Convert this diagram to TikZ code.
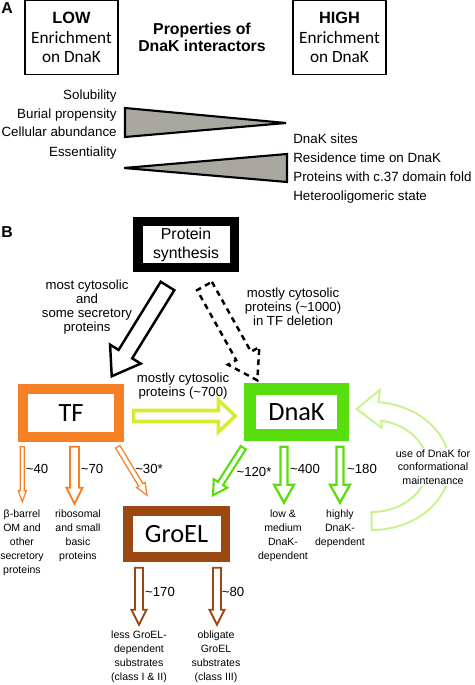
\documentclass[tikz,border=0pt]{standalone}
\usepackage{fontspec}
\setmainfont{Liberation Sans}
\newfontfamily\calfont{Carlito}
\usetikzlibrary{calc,positioning}

\definecolor{tforange}{RGB}{247,128,38}
\definecolor{dnakgreen}{RGB}{88,222,12}
\definecolor{groelbrown}{RGB}{156,72,18}
\definecolor{limeyellow}{RGB}{214,236,44}
\definecolor{palegreen}{RGB}{200,242,140}
\definecolor{wedgegray}{RGB}{168,168,160}

% hollow block arrow: [style]{from}{to}{shaft half width}{head half width}{head length}
\newcommand{\blockarr}[6][]{%
  \coordinate (ba-s) at (#2);
  \coordinate (ba-e) at (#3);
  \coordinate (ba-h) at ($(ba-e)!#6!(ba-s)$);
  \draw[#1] ($(ba-s)!#4!90:(ba-e)$) -- ($(ba-h)!#4!-90:(ba-s)$) -- ($(ba-h)!#5!-90:(ba-s)$)
    -- (ba-e) -- ($(ba-h)!#5!90:(ba-s)$) -- ($(ba-h)!#4!90:(ba-s)$) -- ($(ba-s)!#4!-90:(ba-e)$) -- cycle;
}

\begin{document}
\begin{tikzpicture}[x=0.02cm, y=-0.02cm,
	 panellbl/.style={font=\bfseries\fontsize{9}{10}\selectfont, inner sep=0pt},
	 enrichbox/.style={draw, line width=0.8pt, minimum width=1.86cm, minimum height=1.48cm, inner sep=0pt, align=center, font=\calfont\fontsize{9.8}{11.3}\selectfont},
	 propl/.style={font=\fontsize{7.6}{9}\selectfont, inner sep=0pt, text height=1.6ex, text depth=0.4ex},
	 wedge/.style={draw, line width=1.2pt, fill=wedgegray, line join=miter},
	 chapbox/.style={draw=#1, line width=5.4pt, minimum width=1.93cm, minimum height=0.91cm, inner sep=0pt, align=center},
	 bigname/.style={font=\calfont\fontsize{15}{18}\selectfont},
	 flowlbl/.style={font=\fontsize{7.5}{8}\selectfont, align=center, inner sep=0pt},
	 countlbl/.style={font=\fontsize{7.5}{9}\selectfont, inner sep=0pt},
	 fatelbl/.style={font=\fontsize{6}{7.9}\selectfont, align=center, inner sep=0pt}]
	 \useasboundingbox (0,0) rectangle (474,685);

	 % panel A
	 \node[panellbl] (lblA) at (7,8) {A};
	 \node[enrichbox] (low) at (71.5,37.5) {{\rmfamily\bfseries\fontsize{9.3}{11.3}\selectfont LOW}\\Enrichment\\on DnaK};
	 \node[enrichbox] (high) at (339.5,37.5) {{\rmfamily\bfseries\fontsize{9.3}{11.3}\selectfont HIGH}\\Enrichment\\on DnaK};
	 \node[font=\bfseries\fontsize{9}{9.6}\selectfont, align=center, inner sep=0pt] (props) at (202,37.5) {Properties of\\DnaK interactors};

	 \node[propl, anchor=east] (solub) at (117,94) {Solubility};
	 \node[propl, anchor=east] (burial) at (117,113) {Burial propensity};
	 \node[propl, anchor=east] (abund) at (117,131) {Cellular abundance};
	 \node[propl, anchor=east] (essent) at (117,151) {Essentiality};

	 \draw[wedge] (125,108) -- (286,123) -- (125,137) -- cycle;
	 \draw[wedge] (124,168) -- (287,154) -- (287,182) -- cycle;

	 \node[propl, anchor=west] (sites) at (293,138) {DnaK sites};
	 \node[propl, anchor=west] (residence) at (293,157) {Residence time on DnaK};
	 \node[propl, anchor=west] (fold) at (293,176) {Proteins with c.37 domain fold};
	 \node[propl, anchor=west] (hetero) at (293,195) {Heterooligomeric state};

	 % panel B
	 \node[panellbl] (lblB) at (7,232) {B};
	 \node[chapbox=black, font=\fontsize{9}{10.8}\selectfont] (ps) at (186,244.5) {Protein\\synthesis};
	 \node[chapbox=tforange, bigname, minimum width=1.92cm, minimum height=0.96cm] (tf) at (71,413) {TF};
	 \node[chapbox=dnakgreen, bigname, line width=6.5pt, minimum width=1.86cm, minimum height=0.92cm] (dnak) at (296.5,412) {DnaK};
	 \node[chapbox=groelbrown, bigname, minimum width=1.95cm, minimum height=0.92cm] (groel) at (176.5,534) {GroEL};

	 \blockarr[draw=black, line width=1.4pt, line join=miter]{$(ps.south)+(-18.5,14)$}{$(tf.north east)+(-12,-8)$}{0.16cm}{0.36cm}{0.52cm}
	 \blockarr[draw=black, line width=1.4pt, dash pattern=on 3.2pt off 2.6pt]{$(ps.south)+(18.5,14)$}{$(dnak.north west)+(13,-3)$}{0.17cm}{0.36cm}{0.56cm}
	 \blockarr[draw=limeyellow, line width=2pt, line join=miter]{$(tf.east)+(10,3)$}{$(dnak.west)+(-9,4)$}{0.11cm}{0.32cm}{0.34cm}

	 \node[flowlbl] (srctf) at (87,307) {most cytosolic\\and\\some secretory\\proteins};
	 \node[flowlbl] (srcdnak) at (293,307) {mostly cytosolic\\proteins (\textasciitilde1000)\\in TF deletion};
	 \node[flowlbl] (tfdnak) at (183,386) {mostly cytosolic\\proteins (\textasciitilde700)};

	 % from TF
	 \blockarr[draw=tforange, line width=0.7pt]{$(tf.south west)+(4,5)$}{$(tf.south west)+(4,60)$}{0.04cm}{0.08cm}{0.22cm}
	 \blockarr[draw=tforange, line width=1.1pt]{$(tf.south)+(3.5,5)$}{$(tf.south)+(3.5,62)$}{0.09cm}{0.16cm}{0.32cm}
	 \blockarr[draw=tforange, line width=0.7pt]{$(tf.south east)+(-6,5)$}{$(groel.north west)+(24,-11)$}{0.05cm}{0.1cm}{0.24cm}

	 % from DnaK
	 \blockarr[draw=dnakgreen, line width=1.2pt]{$(dnak.south west)+(-1,7)$}{$(groel.north east)+(-17,-11)$}{0.06cm}{0.16cm}{0.28cm}
	 \blockarr[draw=dnakgreen, line width=1.3pt]{$(dnak.south)+(-12.5,6)$}{$(dnak.south)+(-12.5,62)$}{0.07cm}{0.2cm}{0.36cm}
	 \blockarr[draw=dnakgreen, line width=1.3pt]{$(dnak.south)+(43.5,6)$}{$(dnak.south)+(43.5,62)$}{0.07cm}{0.2cm}{0.36cm}

	 % from GroEL
	 \blockarr[draw=groelbrown, line width=1.1pt]{$(groel.south)+(-37.5,6)$}{$(groel.south)+(-37.5,63)$}{0.08cm}{0.15cm}{0.3cm}
	 \blockarr[draw=groelbrown, line width=1.1pt]{$(groel.south)+(40.5,6)$}{$(groel.south)+(40.5,63)$}{0.08cm}{0.15cm}{0.3cm}

	 % maintenance loop back into DnaK
	 \coordinate (loop) at ($(dnak.east)+(23,54)$);
	 \draw[palegreen, line width=1.1pt, line join=miter] ($(loop)+(0,64)$) arc[start angle=-90, end angle=85, x radius=1.56cm, y radius=1.28cm]
	   -- ($(loop)+(8,-76)$) -- ($(loop)+(-15,-57)$) -- ($(loop)+(10,-38)$) -- ($(loop)+(9.7,-45.3)$)
	   arc[start angle=80, end angle=-90, x radius=1.12cm, y radius=0.92cm] -- cycle;
	 \node[fatelbl, font=\fontsize{6.1}{7.7}\selectfont, fill=white, inner sep=1pt] (maint) at (433,467) {use of DnaK for\\conformational\\maintenance};

	 \node[countlbl] (n40) at (37,469) {\textasciitilde40};
	 \node[countlbl] (n70) at (92,469) {\textasciitilde70};
	 \node[countlbl] (n30) at (149,469) {\textasciitilde30*};
	 \node[countlbl] (n120) at (254,472) {\textasciitilde120*};
	 \node[countlbl] (n400) at (305,469) {\textasciitilde400};
	 \node[countlbl] (n180) at (362,469) {\textasciitilde180};
	 \node[countlbl] (n170) at (160,592) {\textasciitilde170};
	 \node[countlbl] (n80) at (233,592) {\textasciitilde80};

	 \node[fatelbl] (fbarrel) at (22,543) {β-barrel\\OM and\\other\\secretory\\proteins};
	 \node[fatelbl] (fribo) at (78,535.5) {ribosomal\\and small\\basic\\proteins};
	 \node[fatelbl] (flowmed) at (283,535.5) {low \&\\medium\\DnaK-\\dependent};
	 \node[fatelbl] (fhigh) at (340,528.5) {highly\\DnaK-\\dependent};
	 \node[fatelbl] (fless) at (139,657) {less GroEL-\\dependent\\substrates\\(class I \& II)};
	 \node[fatelbl] (foblig) at (216,657) {obligate\\GroEL\\substrates\\(class III)};
	 \end{tikzpicture}
\end{document}
